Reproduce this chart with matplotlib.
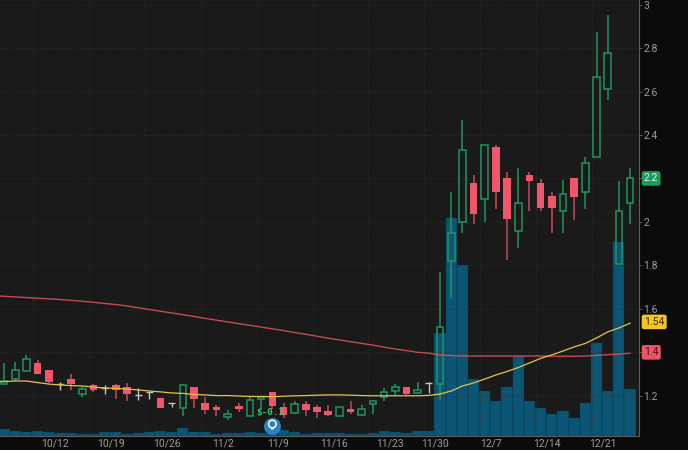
#!/usr/bin/env python3
"""Candlestick chart with volume, two moving averages and price tags."""

import matplotlib
matplotlib.use('Agg')
import matplotlib.pyplot as plt
from matplotlib.ticker import FixedLocator

plt.rcParams['font.family'] = 'Roboto'

# daily prices, one entry per trading day
opens = [1.253, 1.276, 1.316, 1.350, 1.319, 1.254, 1.278, 1.208, 1.250, 1.235,
         1.250, 1.239, 1.205, 1.216, 1.188, 1.168, 1.145, 1.239, 1.168, 1.148,
         1.104, 1.151, 1.107, 1.184, 1.219, 1.147, 1.122, 1.161, 1.148, 1.129,
         1.106, 1.140, 1.113, 1.162, 1.193, 1.222, 1.239, 1.214, 1.258, 1.254,
         1.819, 2.000, 2.180, 2.104, 2.343, 2.202, 1.960, 2.217, 2.180, 2.120,
         2.049, 2.202, 2.139, 2.297, 2.610, 1.806, 2.088]
highs = [1.350, 1.357, 1.388, 1.365, 1.319, 1.265, 1.300, 1.242, 1.254, 1.250,
         1.253, 1.258, 1.237, 1.219, 1.190, 1.168, 1.253, 1.242, 1.196, 1.156,
         1.135, 1.165, 1.193, 1.196, 1.219, 1.165, 1.176, 1.176, 1.156, 1.156,
         1.148, 1.176, 1.156, 1.178, 1.235, 1.253, 1.242, 1.265, 1.265, 1.770,
         2.139, 2.469, 2.216, 2.352, 2.354, 2.231, 2.249, 2.231, 2.199, 2.138,
         2.193, 2.202, 2.300, 2.872, 2.952, 2.189, 2.249]
lows = [1.250, 1.270, 1.316, 1.300, 1.258, 1.227, 1.227, 1.196, 1.219, 1.207,
        1.184, 1.176, 1.181, 1.187, 1.145, 1.147, 1.108, 1.145, 1.116, 1.107,
        1.089, 1.127, 1.107, 1.138, 1.138, 1.096, 1.116, 1.107, 1.096, 1.107,
        1.106, 1.116, 1.110, 1.116, 1.178, 1.204, 1.204, 1.214, 1.214, 1.181,
        1.649, 1.948, 1.990, 1.998, 2.061, 1.825, 1.879, 2.050, 2.050, 1.948,
        1.948, 2.009, 2.061, 2.297, 2.561, 1.806, 1.989]
closes = [1.270, 1.319, 1.368, 1.300, 1.265, 1.252, 1.253, 1.230, 1.227, 1.233,
          1.227, 1.208, 1.203, 1.214, 1.145, 1.166, 1.250, 1.185, 1.135, 1.135,
          1.116, 1.138, 1.181, 1.196, 1.155, 1.112, 1.162, 1.135, 1.124, 1.113,
          1.148, 1.125, 1.139, 1.178, 1.219, 1.239, 1.208, 1.227, 1.256, 1.515,
          1.950, 2.331, 2.036, 2.352, 2.138, 2.015, 2.088, 2.187, 2.065, 2.065,
          2.128, 2.116, 2.270, 2.665, 2.776, 2.051, 2.202]

# volume in millions
volumes = [0.14, 0.11, 0.09, 0.10, 0.08, 0.07, 0.07, 0.05, 0.05, 0.08,
           0.08, 0.05, 0.06, 0.08, 0.10, 0.09, 0.16, 0.09, 0.08, 0.05,
           0.07, 0.07, 0.08, 0.06, 0.12, 0.12, 0.08, 0.05, 0.06, 0.07,
           0.07, 0.05, 0.05, 0.07, 0.10, 0.08, 0.07, 0.10, 0.11, 2.06,
           4.37, 3.43, 1.15, 0.91, 0.71, 0.98, 1.61, 0.71, 0.56, 0.45,
           0.50, 0.36, 0.67, 1.86, 0.91, 3.89, 0.95]

# moving averages start one day before the first candle
ma_slow = [1.661, 1.658, 1.655, 1.652, 1.649, 1.646, 1.643, 1.639, 1.635, 1.630, 1.625,
           1.620, 1.613, 1.605, 1.597, 1.589, 1.581, 1.573, 1.565, 1.556, 1.548,
           1.540, 1.532, 1.524, 1.516, 1.508, 1.500, 1.491, 1.483, 1.474, 1.465,
           1.457, 1.449, 1.441, 1.433, 1.424, 1.415, 1.408, 1.400, 1.396, 1.388,
           1.385, 1.383, 1.383, 1.383, 1.383, 1.383, 1.383, 1.383, 1.383, 1.382,
           1.382, 1.382, 1.383, 1.386, 1.389, 1.392, 1.396]
ma_fast = [1.263, 1.265, 1.268, 1.268, 1.261, 1.254, 1.250, 1.247, 1.245, 1.240, 1.236,
           1.234, 1.231, 1.227, 1.222, 1.218, 1.213, 1.211, 1.206, 1.204, 1.201,
           1.201, 1.199, 1.197, 1.197, 1.196, 1.198, 1.200, 1.201, 1.203, 1.204,
           1.204, 1.203, 1.201, 1.200, 1.200, 1.200, 1.200, 1.200, 1.202, 1.208,
           1.222, 1.245, 1.259, 1.277, 1.296, 1.312, 1.330, 1.351, 1.372, 1.388,
           1.406, 1.425, 1.441, 1.466, 1.494, 1.512, 1.534]

date_index = [5, 10, 15, 20, 25, 30, 35, 39, 44, 49, 54]
date_labels = ['10/12', '10/19', '10/26', '11/2', '11/9', '11/16', '11/23',
               '11/30', '12/7', '12/14', '12/21']
price_ticks = [1.2, 1.4, 1.6, 1.8, 2.0, 2.2, 2.4, 2.6, 2.8, 3.0]
price_labels = ['1.2', '1.4', '1.6', '1.8', '2', '2.2', '2.4', '2.6', '2.8', '3']

GREEN = '#1f9560'
RED = '#f2566a'
WHITE = '#c4c4c4'
LABEL = '#9c9c9c'

W, H = 688, 450
AX_RECT = [0, (H - 436) / H, 639 / W, 436 / H]
XLIM = (-0.36, 56.8)

fig = plt.figure(figsize=(W / 100, H / 100), dpi=100, facecolor='#0b0b0b')

# volume sits underneath on its own scale
ax_vol = fig.add_axes(AX_RECT, facecolor='#1a1a1a')
ax_vol.bar(range(len(volumes)), volumes, width=1.0, color='#0b5675',
           edgecolor='#14303c', linewidth=0.3)
ax_vol.set_xlim(*XLIM)
ax_vol.set_ylim(0, 8.72)
ax_vol.set_xticks([])
ax_vol.set_yticks([])
for s in ax_vol.spines.values():
    s.set_visible(False)

ax = fig.add_axes(AX_RECT, facecolor='none')
ax.set_xlim(*XLIM)
ax.set_ylim(1.015, 3.021)

# grid
ax.xaxis.set_minor_locator(FixedLocator([i + 0.6 for i in range(-3, 57, 5)]))
ax.grid(True, which='minor', axis='x', color='#303030', linestyle=':', linewidth=0.6)
ax.grid(True, which='major', axis='y', color='#303030', linestyle=':', linewidth=0.6)
ax.set_axisbelow(True)
ax.tick_params(axis='x', which='minor', length=0)

# candles
for i, (o, h, l, c) in enumerate(zip(opens, highs, lows, closes)):
    top, bot = max(o, c), min(o, c)
    if top - bot < 0.005:
        color = WHITE
        ax.vlines(i, l, h, color=color, linewidth=1.0, zorder=4)
        ax.hlines(top, i - 0.3, i + 0.3, color=color, linewidth=1.0, zorder=4)
    elif c > o:
        ax.vlines(i, top, h, color=GREEN, linewidth=1.1, zorder=4)
        ax.vlines(i, l, bot, color=GREEN, linewidth=1.1, zorder=4)
        ax.bar(i, top - bot, bottom=bot, width=0.6, facecolor='none',
               edgecolor=GREEN, linewidth=1.1, zorder=4)
    else:
        ax.vlines(i, l, h, color='#c9485a', linewidth=1.1, zorder=4)
        ax.bar(i, top - bot, bottom=bot, width=0.68, color=RED, linewidth=0, zorder=4)

# moving averages
ma_days = range(-1, 57)
ax.plot(ma_days, ma_slow, color='#e2545f', linewidth=1.0, alpha=0.85, zorder=5)
ax.plot(ma_days, ma_fast, color='#e6c14e', linewidth=0.9, zorder=5)

# axes
ax.yaxis.tick_right()
ax.set_yticks(price_ticks, price_labels)
ax.set_xticks([i - 0.45 for i in date_index], date_labels)
ax.tick_params(axis='y', which='major', length=2, width=0.6, color='#666666',
               labelcolor=LABEL, labelsize=7.5, pad=1)
ax.tick_params(axis='x', which='major', length=0, labelcolor=LABEL, labelsize=7.5, pad=1.5)
ax.spines['top'].set_visible(False)
ax.spines['left'].set_visible(False)
ax.spines['right'].set_color('#5c5c5c')
ax.spines['bottom'].set_color('#5c5c5c')

# price tags on the right
tag_x = 644 / 639
for price, text, bg, fg in [(2.2, '2.2', '#17a05a', '#e8f5ec'),
                            (1.54, '1.54', '#f3c623', '#3a2f05'),
                            (1.4, '1.4', '#ec5566', '#4a1016')]:
    ax.text(tag_x, price, text, transform=ax.get_yaxis_transform(), color=fg,
            fontsize=7.5, va='center', ha='left', clip_on=False, zorder=8,
            bbox=dict(boxstyle='round,pad=0.22', facecolor=bg, edgecolor='none'))

# earnings marker
ax.text(23.8, 1.125, '$-0.1', color='#2ecc71', fontsize=6.7, fontweight='bold',
        family='DejaVu Sans Mono', ha='center', va='center', zorder=6)
ax.scatter([24], [1.061], s=150, color='#2f7fc1', linewidths=0, zorder=7)
ax.scatter([24], [1.070], s=30, facecolor='none', edgecolor='white', linewidths=1.1, zorder=8)
ax.vlines(24, 1.045, 1.057, color='white', linewidth=2.0, zorder=8)

plt.savefig('out.png', dpi=100, facecolor=fig.get_facecolor())
plt.close()
